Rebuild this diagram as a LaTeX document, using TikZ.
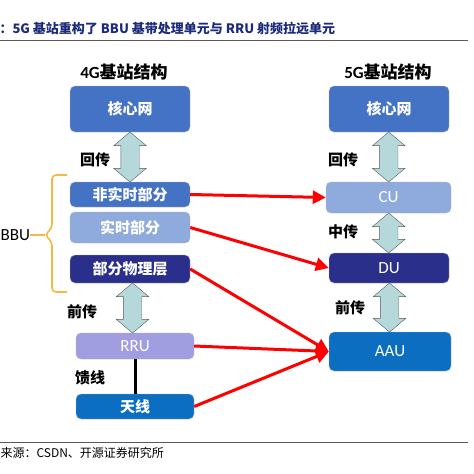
\documentclass[tikz,border=0pt]{standalone}
\usepackage{fontspec}
\setmainfont{Carlito}
\newfontfamily\cjk{Noto Sans CJK SC}
\usetikzlibrary{shapes.arrows, arrows.meta, calc}

\definecolor{boxblue}{HTML}{4472C4}
\definecolor{boxlight}{HTML}{8FAADC}
\definecolor{boxnavy}{HTML}{2B2F8C}
\definecolor{boxlav}{HTML}{A09EE0}
\definecolor{boxsea}{HTML}{0B6EC1}
\definecolor{hopfill}{HTML}{B5D8DA}
\definecolor{titlenavy}{HTML}{1C2B7A}
\definecolor{braceyellow}{HTML}{F4B940}

\begin{document}
\begin{tikzpicture}[x=1pt, y=-1pt,
		unit/.style={draw=gray!60, rounded corners=5pt, text=white, inner sep=0pt,
			font=\cjk\bfseries\fontsize{15}{15}\selectfont},
		latin/.style={font=\normalfont\fontsize{17}{17}\selectfont},
		hop/.style={double arrow, rotate=90, draw=gray!70!black, fill=hopfill, inner xsep=0pt, inner ysep=9pt,
			double arrow head extend=7pt, double arrow tip angle=100},
		hoplabel/.style={font=\cjk\bfseries\fontsize{15}{15}\selectfont},
		feed/.style={red, line width=3pt, -{Triangle[length=13pt, width=13pt]}}]
		\useasboundingbox (0, 0) rectangle (474, 474);

		\node[anchor=west, text=titlenavy, font=\cjk\bfseries\fontsize{13}{13}\selectfont] (caption) at (-4, 28)
			{：5G 基站重构了 BBU 基带处理单元与 RRU 射频拉远单元};
		\draw[gray!70!black, line width=.8pt] (0, 40) -- (468, 40);

		\node[font=\fontsize{17}{17}\selectfont\bfseries] (head4) at (124, 72) {4G{\cjk\bfseries 基站结构}};
		\node[font=\fontsize{17}{17}\selectfont\bfseries] (head5) at (388, 72) {5G{\cjk\bfseries 基站结构}};

		% 4G side
		\node[unit, fill=boxblue, minimum width=120pt, minimum height=46pt] (core4) at (130, 109) {核心网};
		\node[unit, fill=boxblue, minimum width=120pt, minimum height=25pt] (nrt) at (130, 194.5) {非实时部分};
		\node[unit, fill=boxlight, minimum width=120pt, minimum height=31pt] (rt) at (130, 227.5) {实时部分};
		\node[unit, fill=boxnavy, minimum width=120pt, minimum height=28pt] (phy) at (130, 269) {部分物理层};
		\node[unit, latin, fill=boxlav, minimum width=118pt, minimum height=26pt] (rru) at (135, 346) {RRU};
		\node[unit, fill=boxsea, minimum width=118pt, minimum height=25pt] (ant) at (135, 406.5) {天线};

		% 5G side
		\node[unit, fill=boxblue, minimum width=120pt, minimum height=46pt] (core5) at (389, 109) {核心网};
		\node[unit, latin, fill=boxlight, minimum width=125pt, minimum height=31pt] (cu) at (388.5, 197.5) {CU};
		\node[unit, latin, fill=boxnavy, minimum width=120pt, minimum height=30pt] (du) at (389, 268) {DU};
		\node[unit, latin, fill=boxsea, minimum width=122pt, minimum height=39pt] (aau) at (390, 351.5) {AAU};

		\node[hop, minimum height=50pt] (back4) at ($(core4.south)!.5!(nrt.north)$) {};
		\node[hop, minimum height=50pt] (front4) at ($(phy.south)!.5!(rru.north)$) {};
		\node[hop, minimum height=50pt] (back5) at ($(core5.south)!.5!(cu.north)$) {};
		\node[hop, minimum height=40pt] (mid5) at ($(cu.south)!.5!(du.north)$) {};
		\node[hop, minimum height=49pt] (front5) at ($(du.south)!.5!(aau.north)$) {};

		\node[hoplabel] (back4lbl) at (95, 160) {回传};
		\node[hoplabel] (front4lbl) at (82, 312) {前传};
		\node[hoplabel] (feederlbl) at (90, 378) {馈线};
		\node[hoplabel] (back5lbl) at (343, 160) {回传};
		\node[hoplabel] (mid5lbl) at (343, 232) {中传};
		\node[hoplabel] (front5lbl) at (350, 308) {前传};

		\draw[line width=3pt] (rru) -- (ant);

		% BBU brace
		\coordinate (bbutip) at (45, 235);
		\draw[braceyellow, line width=1.6pt, rounded corners=4pt]
			(67, 175) -- (52, 175) -- (52, 228) -- (bbutip) -- (52, 242) -- (52, 292) -- (67, 292);
		\node[anchor=west, inner sep=0pt, font=\fontsize{17}{17}\selectfont] (bbu) at (0.5, 235) {BBU};
		\draw[braceyellow, line width=1.6pt] (bbu) -- (bbutip);

		\draw[feed] (nrt.east) -- (cu.west);
		\draw[feed] (rt.east) -- (du.west);
		\draw[feed] (phy.east) -- (aau.west);
		\draw[feed] (rru.east) -- (aau.west);
		\draw[feed] (ant.east) -- (aau.west);

		\draw[gray!70!black, line width=.8pt] (0, 442) -- (468, 442);
		\node[anchor=west, font=\cjk\fontsize{12}{12}\selectfont] (source) at (-3, 453) {来源：CSDN、开源证券研究所};
	\end{tikzpicture}
\end{document}
